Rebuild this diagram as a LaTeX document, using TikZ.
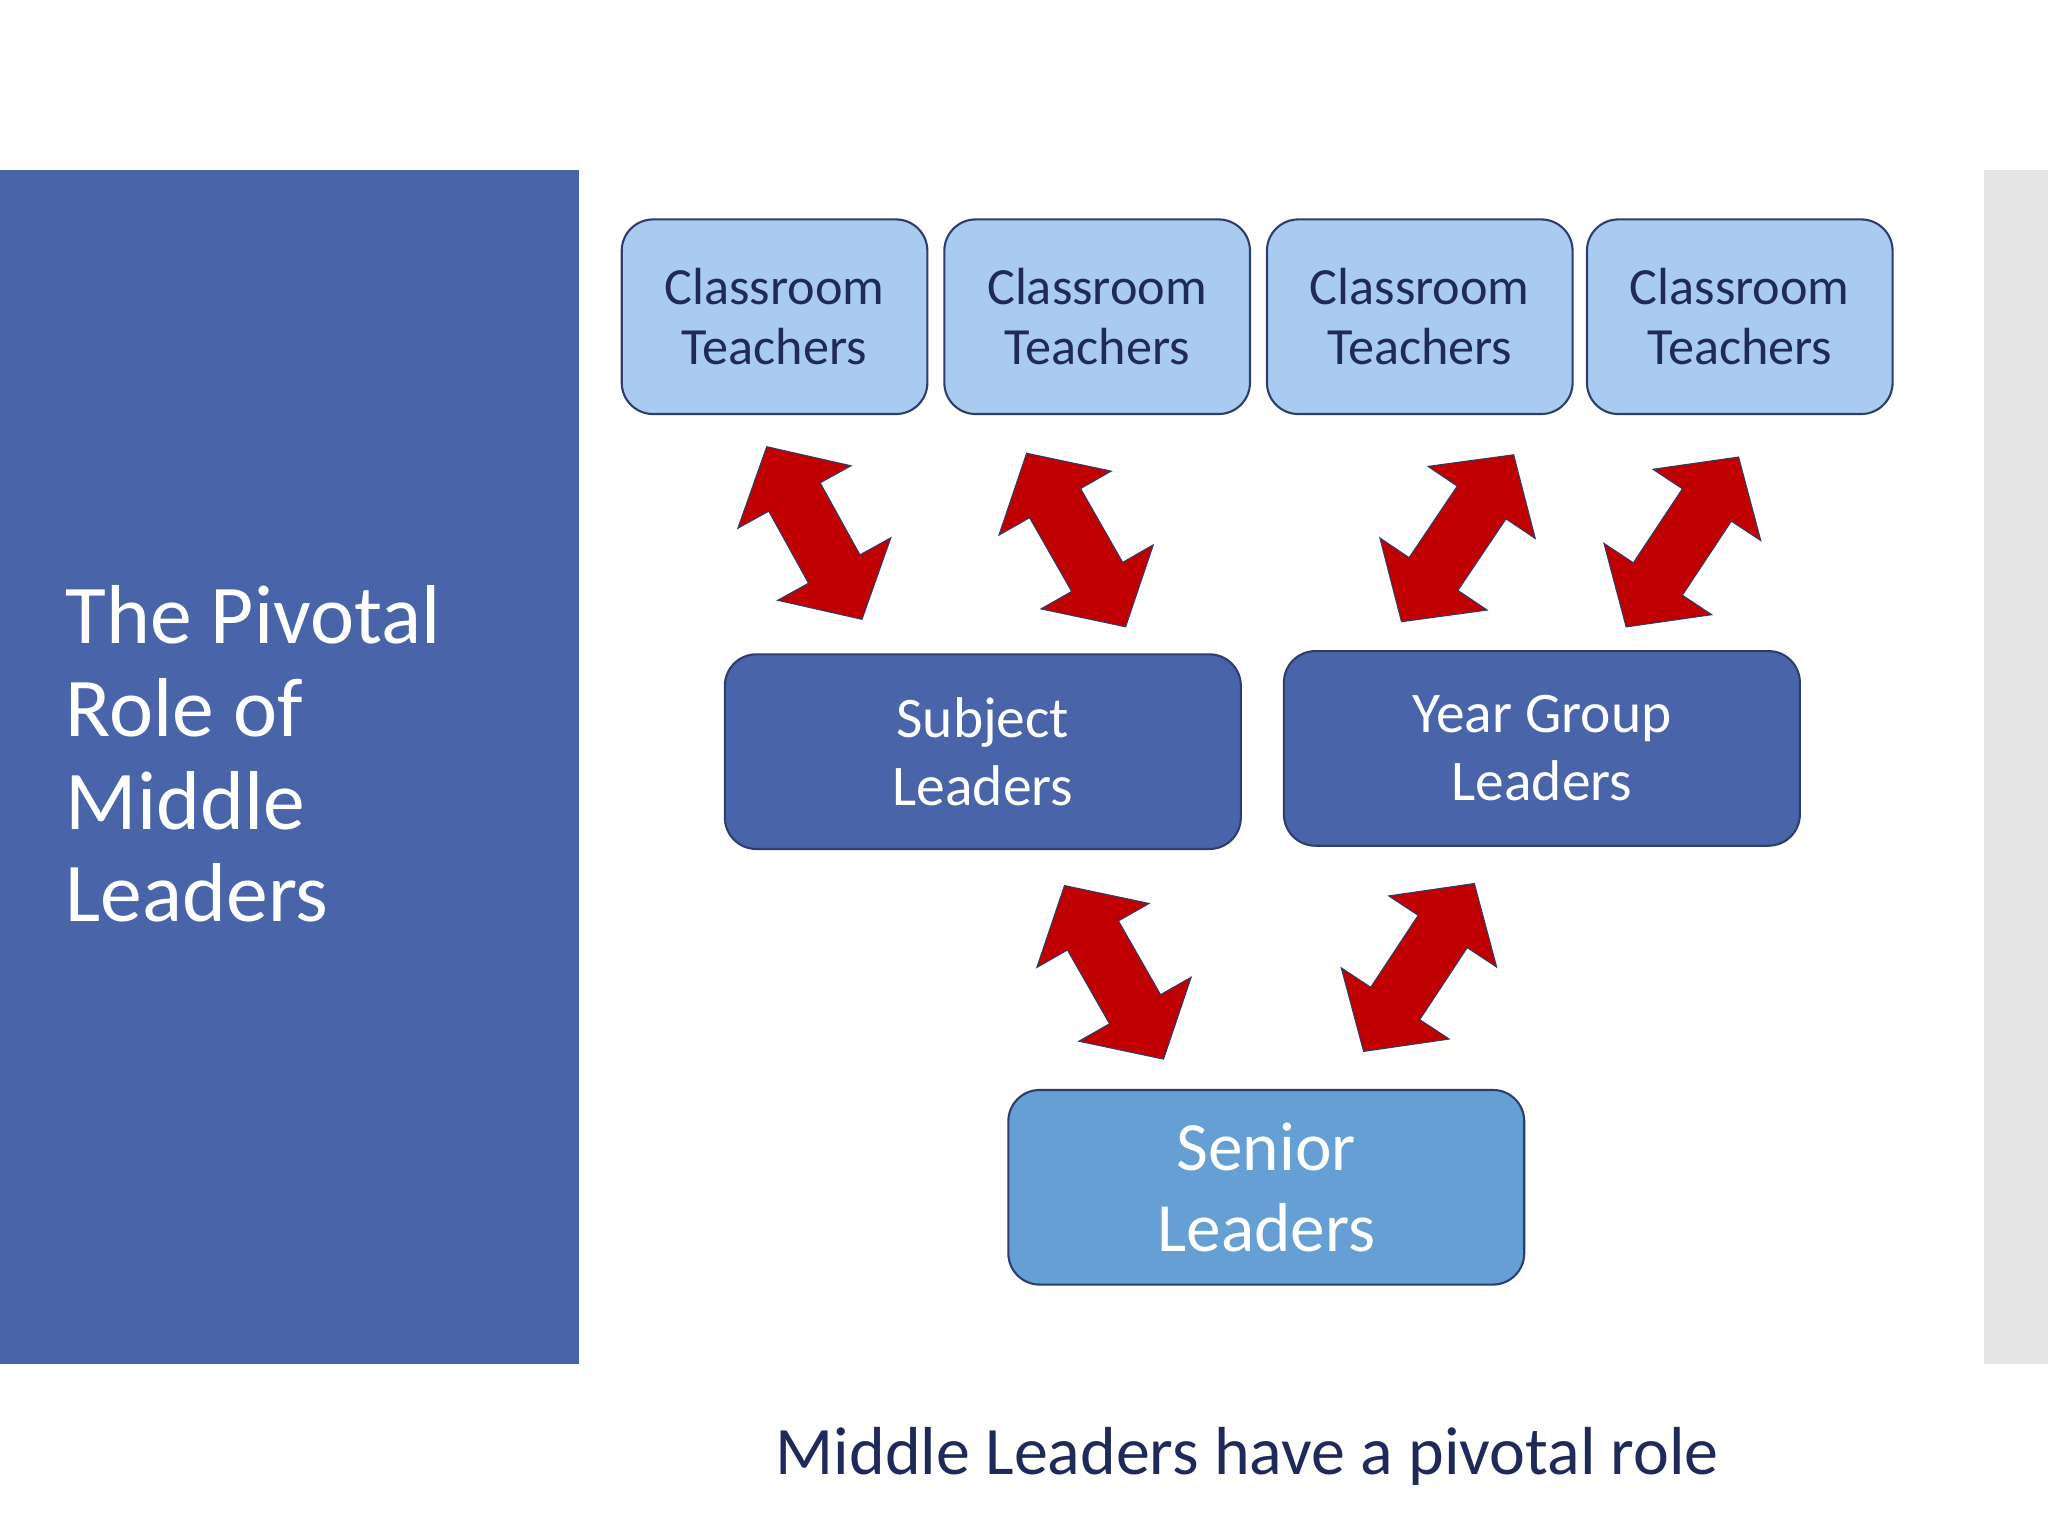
\documentclass[tikz,border=0pt]{standalone}
\usepackage{fontspec}
\setmainfont{Carlito}
\definecolor{panel}{HTML}{4A64AA}
\definecolor{light}{HTML}{A9CBEF}
\definecolor{senior}{HTML}{659FD3}
\definecolor{navy}{HTML}{1F2A5A}
\definecolor{edge}{HTML}{2F3D6B}
\definecolor{arrred}{HTML}{C00000}
\newcommand\dblarr[4]{%
\begin{scope}[shift={(#1,#2)},rotate=#3]
\draw[arrowsty] (0,0) -- (44,49.5) -- (44,22.5) -- (#4-44,22.5) -- (#4-44,49.5) -- (#4,0) -- (#4-44,-49.5) -- (#4-44,-22.5) -- (44,-22.5) -- (44,-49.5) -- cycle;
\end{scope}}
\begin{document}
\begin{tikzpicture}[x=0.5pt,y=-0.5pt,
  box/.style={draw=edge,line width=0.8pt,rounded corners=12pt,inner sep=0pt,align=center},
  ctbox/.style={box,fill=light,text=navy,minimum width=117pt,minimum height=74.5pt,font=\fontsize{20}{23}\selectfont},
  midbox/.style={box,fill=panel,text=white,minimum width=197.5pt,minimum height=74.5pt,font=\fontsize{22}{26}\selectfont},
  arrowsty/.style={fill=arrred,draw=edge,line width=0.4pt}]
\useasboundingbox (0,0) rectangle (1568,1176);
\fill[white] (0,0) rectangle (1568,1176);
\fill[panel] (0,130) rectangle (443,1044);
\fill[black!10] (1519,130) rectangle (1568,1044);
\node[anchor=north west,text=white,align=left,font=\fontsize{32}{35.5}\selectfont,inner sep=0pt] (title) at (50,448) {The Pivotal\\Role of\\Middle\\Leaders};
\node[ctbox] (c1) at (593,242.5) {Classroom\\Teachers};
\node[ctbox] (c2) at (840,242.5) {Classroom\\Teachers};
\node[ctbox] (c3) at (1087,242.5) {Classroom\\Teachers};
\node[ctbox] (c4) at (1332,242.5) {Classroom\\Teachers};
\node[midbox] (sl) at (752.5,575.5) {Subject\\Leaders};
\node[midbox] (yl) at (1180.5,573) {Year Group\\Leaders};
\node[midbox,fill=senior,font=\fontsize{26.5}{31}\selectfont] (sen) at (969.5,909) {Senior\\Leaders};
\dblarr{587}{342}{-61.1}{151}
\dblarr{786}{347}{-60.3}{153}
\dblarr{1073}{476}{56.1}{154}
\dblarr{1245}{480}{56.5}{156}
\dblarr{815}{678}{-60.3}{153}
\dblarr{1044}{805}{56.6}{154}
\node[text=navy,font=\fontsize{26}{30}\selectfont] (cap) at (955,1115) {Middle Leaders have a pivotal role};
\end{tikzpicture}
\end{document}
